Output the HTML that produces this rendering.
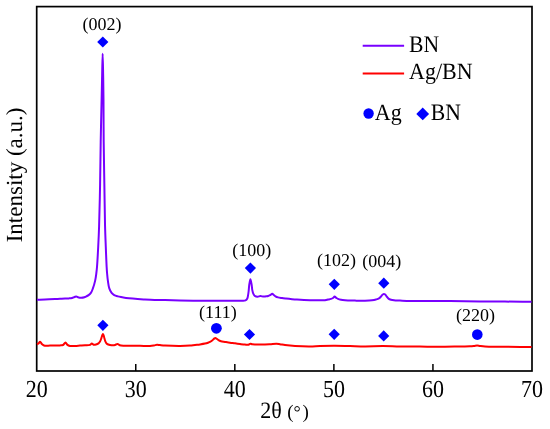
<!DOCTYPE html>
<html><head><meta charset="utf-8"><style>
html,body{margin:0;padding:0;background:#fff;}
body{width:550px;height:429px;overflow:hidden;}
svg{display:block;}
text{font-family:"Liberation Serif","DejaVu Serif",serif;fill:#000;text-rendering:geometricPrecision;}
</style></head><body>
<svg width="550" height="429" viewBox="0 0 550 429">
<rect x="36.70" y="6.60" width="495.30" height="364.40" fill="none" stroke="#000" stroke-width="1.7"/>
<line x1="135.76" y1="371.00" x2="135.76" y2="364.00" stroke="#000" stroke-width="1.5"/>
<line x1="234.82" y1="371.00" x2="234.82" y2="364.00" stroke="#000" stroke-width="1.5"/>
<line x1="333.88" y1="371.00" x2="333.88" y2="364.00" stroke="#000" stroke-width="1.5"/>
<line x1="432.94" y1="371.00" x2="432.94" y2="364.00" stroke="#000" stroke-width="1.5"/>
<text transform="translate(36.70,396.9) scale(1,1.11)" font-size="22" text-anchor="middle">20</text>
<text transform="translate(135.76,396.9) scale(1,1.11)" font-size="22" text-anchor="middle">30</text>
<text transform="translate(234.82,396.9) scale(1,1.11)" font-size="22" text-anchor="middle">40</text>
<text transform="translate(333.88,396.9) scale(1,1.11)" font-size="22" text-anchor="middle">50</text>
<text transform="translate(432.94,396.9) scale(1,1.11)" font-size="22" text-anchor="middle">60</text>
<text transform="translate(532.00,396.9) scale(1,1.11)" font-size="22" text-anchor="middle">70</text>
<path d="M37.00,299.80 C39.67,299.70 42.18,299.61 45.00,299.50 C48.15,299.38 52.24,299.24 55.00,299.10 C56.95,299.00 58.33,298.88 60.00,298.80 C61.67,298.72 63.46,298.67 65.00,298.60 C66.33,298.54 67.50,298.50 68.70,298.40 C69.83,298.30 70.99,298.26 72.00,298.00 C72.91,297.77 73.73,297.28 74.50,297.00 C75.15,296.76 75.72,296.37 76.30,296.40 C76.88,296.43 77.34,296.98 78.00,297.20 C78.84,297.48 79.97,297.77 81.00,297.80 C82.10,297.83 83.44,297.60 84.40,297.30 C85.18,297.06 85.72,296.65 86.40,296.30 C87.12,295.92 87.89,295.62 88.60,295.10 C89.40,294.52 90.24,293.84 90.90,292.90 C91.73,291.73 92.27,290.11 92.90,288.40 C93.69,286.24 94.53,283.41 95.10,280.90 C95.66,278.44 95.98,275.89 96.30,273.50 C96.60,271.27 96.77,269.76 97.00,267.00 C97.41,262.16 97.85,253.75 98.20,247.00 C98.56,240.09 98.83,234.20 99.10,226.00 C99.49,214.40 99.83,198.00 100.10,184.00 C100.37,170.00 100.45,156.00 100.70,142.00 C100.95,128.00 101.34,112.19 101.60,100.00 C101.80,90.59 101.97,83.00 102.15,75.00 C102.32,67.62 102.48,53.70 102.65,53.70 C102.82,53.70 103.01,67.62 103.15,75.00 C103.30,83.00 103.41,90.59 103.50,100.00 C103.61,112.19 103.56,128.00 103.70,142.00 C103.84,156.00 104.13,170.00 104.35,184.00 C104.58,198.00 104.75,214.40 105.05,226.00 C105.26,234.20 105.53,240.09 105.80,247.00 C106.06,253.75 106.38,262.16 106.65,267.00 C106.80,269.76 106.90,271.27 107.10,273.50 C107.31,275.89 107.54,278.43 107.90,280.90 C108.27,283.40 108.57,286.26 109.30,288.40 C109.89,290.14 110.67,291.73 111.60,292.90 C112.36,293.86 113.20,294.53 114.20,295.10 C115.28,295.72 116.71,296.06 117.90,296.40 C118.97,296.71 119.84,296.88 121.00,297.10 C122.46,297.38 124.21,297.66 126.00,297.90 C128.07,298.17 130.19,298.38 132.70,298.60 C135.89,298.88 139.97,299.17 143.60,299.40 C147.23,299.63 150.90,299.88 154.50,300.00 C158.03,300.11 161.19,300.03 165.00,300.10 C169.56,300.18 174.64,300.40 180.00,300.50 C186.19,300.61 193.33,300.65 200.00,300.70 C206.67,300.75 213.81,300.78 220.00,300.80 C225.36,300.81 230.94,300.83 235.00,300.80 C237.77,300.78 240.07,300.82 242.00,300.70 C243.37,300.61 244.59,300.76 245.50,300.30 C246.29,299.91 246.88,299.16 247.30,298.40 C247.74,297.60 247.80,296.63 248.00,295.60 C248.24,294.37 248.41,293.05 248.60,291.50 C248.85,289.48 248.97,286.65 249.30,284.50 C249.59,282.63 250.02,279.30 250.40,279.30 C250.78,279.30 251.29,282.73 251.60,284.50 C251.92,286.32 251.96,288.43 252.30,290.10 C252.59,291.50 252.87,292.83 253.40,293.90 C253.85,294.81 254.37,295.74 255.10,296.20 C255.79,296.64 256.74,296.71 257.60,296.70 C258.51,296.69 259.43,296.13 260.40,296.10 C261.43,296.07 262.61,296.58 263.60,296.60 C264.46,296.61 265.22,296.40 266.00,296.30 C266.75,296.20 267.49,296.21 268.20,296.00 C268.93,295.78 269.63,295.37 270.30,295.00 C270.96,294.64 271.60,293.78 272.20,293.80 C272.76,293.82 273.26,294.59 273.80,295.00 C274.36,295.42 274.85,295.92 275.50,296.30 C276.23,296.73 277.05,297.11 278.00,297.40 C279.16,297.75 280.66,297.90 282.00,298.10 C283.33,298.30 284.53,298.43 286.00,298.60 C287.80,298.80 290.09,299.03 292.00,299.20 C293.74,299.36 294.94,299.47 297.00,299.60 C300.32,299.81 305.51,300.10 310.00,300.20 C314.82,300.31 321.92,300.51 325.00,300.20 C326.39,300.06 327.00,299.82 328.00,299.60 C329.00,299.38 330.11,299.20 331.00,298.90 C331.75,298.65 332.40,298.39 333.00,298.00 C333.59,297.62 334.06,296.62 334.60,296.60 C335.13,296.58 335.64,297.42 336.20,297.80 C336.77,298.19 337.30,298.59 338.00,298.90 C338.85,299.28 339.92,299.57 341.00,299.80 C342.23,300.06 343.36,300.17 345.00,300.30 C347.58,300.50 351.67,300.53 355.00,300.60 C358.33,300.67 361.96,300.77 365.00,300.70 C367.54,300.64 370.00,300.56 372.00,300.30 C373.53,300.10 374.77,299.84 376.00,299.50 C377.08,299.19 378.15,298.93 379.00,298.40 C379.79,297.91 380.37,297.15 381.00,296.50 C381.60,295.88 382.15,295.05 382.70,294.60 C383.11,294.27 383.49,293.91 383.90,293.90 C384.32,293.89 384.79,294.25 385.20,294.60 C385.73,295.05 386.17,295.86 386.70,296.50 C387.27,297.19 387.78,298.07 388.50,298.60 C389.22,299.13 390.11,299.42 391.00,299.70 C391.94,300.00 392.82,300.15 394.00,300.30 C395.65,300.51 397.75,300.50 400.00,300.60 C402.91,300.73 406.33,300.93 410.00,301.00 C414.49,301.09 419.36,300.99 425.00,301.00 C432.27,301.01 441.29,301.04 450.00,301.10 C459.54,301.17 470.46,301.31 480.00,301.40 C488.71,301.48 496.55,301.53 505.00,301.60 C513.70,301.67 522.67,301.73 531.50,301.80" fill="none" stroke="#7800ff" stroke-width="2" stroke-linejoin="round"/>
<path d="M37.00,344.30 C37.50,344.00 38.02,343.79 38.50,343.40 C39.06,342.95 39.58,341.67 40.10,341.70 C40.68,341.73 41.13,343.36 41.80,344.00 C42.44,344.62 43.03,345.19 44.00,345.50 C45.46,345.96 48.09,345.60 50.00,345.60 C51.74,345.60 53.33,345.53 55.00,345.50 C56.67,345.47 58.55,345.51 60.00,345.40 C61.13,345.31 62.11,345.45 63.00,345.00 C63.97,344.51 64.77,342.36 65.50,342.40 C66.14,342.43 66.48,344.02 67.20,344.60 C67.96,345.21 68.90,345.66 70.00,345.90 C71.40,346.21 73.33,345.95 75.00,345.90 C76.67,345.85 78.33,345.70 80.00,345.60 C81.67,345.50 83.33,345.42 85.00,345.30 C86.67,345.18 88.80,345.37 90.00,344.90 C90.81,344.59 91.20,343.51 91.80,343.50 C92.37,343.49 92.84,344.52 93.50,344.70 C94.22,344.90 95.18,344.71 96.00,344.50 C96.85,344.29 97.82,343.91 98.50,343.40 C99.13,342.93 99.56,342.33 100.00,341.60 C100.53,340.72 100.93,339.47 101.30,338.40 C101.66,337.37 101.87,336.08 102.20,335.30 C102.42,334.79 102.66,334.10 102.90,334.10 C103.16,334.10 103.47,334.93 103.70,335.50 C104.00,336.26 104.13,337.34 104.40,338.30 C104.69,339.34 104.94,340.54 105.40,341.50 C105.83,342.39 106.26,343.32 107.00,343.90 C107.78,344.51 108.85,344.78 110.00,345.00 C111.44,345.27 113.65,345.39 115.00,345.10 C116.01,344.88 116.71,343.85 117.50,343.90 C118.27,343.95 118.76,344.99 119.70,345.30 C121.04,345.75 122.78,345.61 125.00,345.70 C128.73,345.85 135.51,345.76 140.00,345.80 C143.67,345.83 147.42,346.05 150.00,345.90 C151.64,345.81 152.77,345.60 154.00,345.40 C155.08,345.23 156.00,344.85 157.00,344.80 C158.00,344.75 158.87,345.00 160.00,345.10 C161.45,345.23 162.88,345.39 165.00,345.50 C168.66,345.69 175.51,345.93 180.00,345.90 C183.67,345.88 187.24,345.72 190.00,345.50 C191.96,345.34 193.33,345.08 195.00,344.90 C196.67,344.72 198.34,344.62 200.00,344.40 C201.67,344.18 203.55,343.93 205.00,343.60 C206.14,343.34 207.06,343.05 208.00,342.70 C208.88,342.38 209.73,342.03 210.50,341.60 C211.23,341.19 211.88,340.71 212.50,340.20 C213.11,339.70 213.66,339.00 214.20,338.60 C214.62,338.29 214.99,337.90 215.40,337.90 C215.83,337.91 216.24,338.38 216.70,338.70 C217.26,339.09 217.82,339.70 218.50,340.10 C219.24,340.54 220.05,340.91 221.00,341.20 C222.16,341.55 223.59,341.66 225.00,341.90 C226.57,342.16 228.33,342.47 230.00,342.70 C231.66,342.93 233.33,343.08 235.00,343.30 C236.67,343.52 238.33,343.78 240.00,344.00 C241.67,344.22 243.48,344.49 245.00,344.60 C246.27,344.69 247.52,344.92 248.50,344.70 C249.28,344.53 249.84,343.75 250.50,343.70 C251.11,343.66 251.58,344.16 252.30,344.30 C253.30,344.49 254.62,344.45 256.00,344.50 C257.76,344.56 259.86,344.64 262.00,344.60 C264.48,344.56 267.47,344.36 270.00,344.20 C272.28,344.06 274.67,343.64 276.50,343.70 C277.85,343.74 278.73,344.01 280.00,344.20 C281.52,344.43 283.33,344.77 285.00,345.00 C286.66,345.23 288.33,345.43 290.00,345.60 C291.67,345.77 292.88,345.89 295.00,346.00 C298.66,346.19 305.51,346.43 310.00,346.40 C313.67,346.38 316.33,346.10 320.00,346.00 C324.49,345.88 330.00,345.78 335.00,345.80 C340.00,345.82 345.00,346.00 350.00,346.10 C355.00,346.20 359.77,346.39 365.00,346.40 C370.73,346.41 377.09,346.08 383.00,346.10 C388.75,346.12 394.10,346.42 400.00,346.50 C406.40,346.59 412.96,346.57 420.00,346.60 C427.87,346.64 437.73,346.76 445.00,346.70 C450.64,346.65 455.50,346.47 460.00,346.40 C463.67,346.34 467.42,346.44 470.00,346.30 C471.64,346.21 472.75,346.06 474.00,345.90 C475.10,345.76 476.08,345.39 477.10,345.40 C478.08,345.41 478.90,345.74 480.00,345.90 C481.44,346.11 482.88,346.35 485.00,346.50 C488.66,346.76 494.08,346.72 500.00,346.80 C508.57,346.91 521.00,346.93 531.50,347.00" fill="none" stroke="#ff0000" stroke-width="2" stroke-linejoin="round"/>
<path d="M102.80,36.40 L108.40,42.00 L102.80,47.60 L97.20,42.00 Z" fill="#0000ff"/>
<text x="102.10" y="30.00" font-size="18" text-anchor="middle">(002)</text>
<path d="M250.40,262.50 L256.00,268.10 L250.40,273.70 L244.80,268.10 Z" fill="#0000ff"/>
<text x="251.70" y="255.70" font-size="18" text-anchor="middle">(100)</text>
<path d="M334.30,278.70 L339.90,284.30 L334.30,289.90 L328.70,284.30 Z" fill="#0000ff"/>
<text x="336.50" y="266.40" font-size="18" text-anchor="middle">(102)</text>
<path d="M383.80,277.60 L389.40,283.20 L383.80,288.80 L378.20,283.20 Z" fill="#0000ff"/>
<text x="381.80" y="266.50" font-size="18" text-anchor="middle">(004)</text>
<path d="M102.90,319.70 L108.50,325.30 L102.90,330.90 L97.30,325.30 Z" fill="#0000ff"/>
<circle cx="216.40" cy="328.30" r="5.40" fill="#0000ff"/>
<text x="217.90" y="317.80" font-size="18" text-anchor="middle">(111)</text>
<path d="M249.50,328.90 L255.10,334.50 L249.50,340.10 L243.90,334.50 Z" fill="#0000ff"/>
<path d="M334.20,328.70 L339.80,334.30 L334.20,339.90 L328.60,334.30 Z" fill="#0000ff"/>
<path d="M383.70,330.30 L389.30,335.90 L383.70,341.50 L378.10,335.90 Z" fill="#0000ff"/>
<circle cx="477.30" cy="334.60" r="5.30" fill="#0000ff"/>
<text x="475.60" y="321.10" font-size="18" text-anchor="middle">(220)</text>
<line x1="362.7" y1="45.7" x2="404.1" y2="45.7" stroke="#7800ff" stroke-width="2"/>
<text transform="translate(409.1,51.9) scale(0.985,1.08)" font-size="22">BN</text>
<line x1="362.7" y1="73.4" x2="404.1" y2="73.4" stroke="#ff0000" stroke-width="2"/>
<text transform="translate(409.0,79.3) scale(1,1.06)" font-size="22">Ag/BN</text>
<circle cx="368.60" cy="113.50" r="5.20" fill="#0000ff"/>
<text transform="translate(374.8,119.7) scale(1,1.06)" font-size="22">Ag</text>
<path d="M422.70,107.50 L429.10,113.90 L422.70,120.30 L416.30,113.90 Z" fill="#0000ff"/>
<text transform="translate(430.8,119.7) scale(0.985,1.07)" font-size="22">BN</text>
<text transform="translate(260.2,418.3) scale(1,1.07)" font-size="22">2θ</text>
<text x="287.2" y="417.6" font-size="19">(</text>
<text x="293.6" y="417.6" font-size="18">°</text>
<text x="302.4" y="417.6" font-size="19">)</text>
<text transform="translate(21.6,242.3) rotate(-90)" x="0" y="0" font-size="23">Intensity (a.u.)</text>
</svg>
</body></html>
